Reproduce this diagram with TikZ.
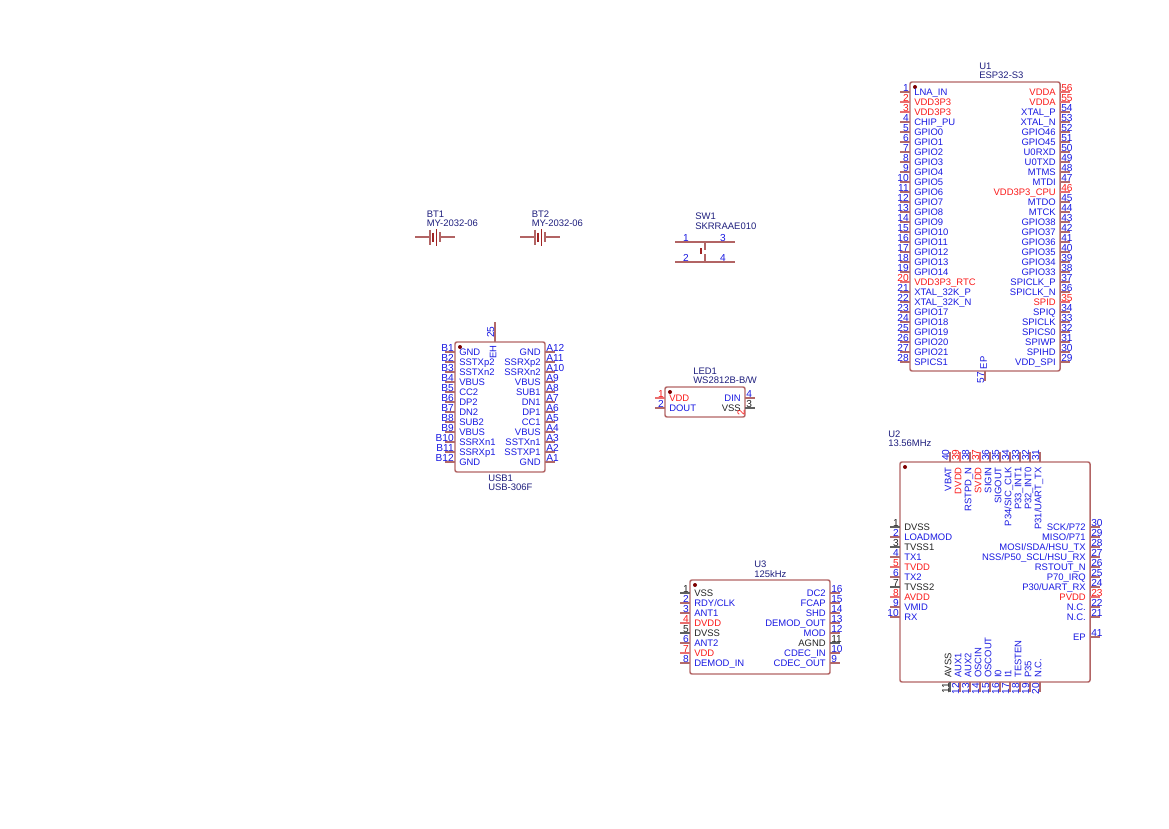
\documentclass[tikz,border=0pt]{standalone}
\usepackage{fontspec}
\setmainfont{Liberation Sans}
\usepackage{tikz}
\usetikzlibrary{calc}

\definecolor{pinb}{RGB}{25,25,225}
\definecolor{pinr}{RGB}{250,25,25}
\definecolor{pink}{RGB}{35,35,35}
\definecolor{stubb}{RGB}{178,105,105}
\definecolor{stubr}{RGB}{232,110,110}
\definecolor{stubk}{RGB}{95,95,95}
\definecolor{bodyc}{RGB}{178,100,100}
\definecolor{darkc}{RGB}{160,35,35}
\definecolor{dotc}{RGB}{125,0,0}
\definecolor{refc}{RGB}{30,30,125}

\tikzset{
	body/.style={draw=bodyc, line width=1.1pt, rounded corners=1.5pt},
	stubline/.style={line width=1.1pt},
	pinname/.style={font=\fontsize{7.1}{8}\selectfont, inner sep=0pt, text height=5pt, text depth=0pt},
	pinnum/.style={font=\fontsize{7.6}{8}\selectfont, inner sep=0pt},
	reftext/.style={font=\fontsize{7.1}{8}\selectfont, text=refc, inner sep=0pt, anchor=west, text height=5pt, text depth=0pt},
	dotmark/.style={circle, fill=dotc, inner sep=0pt, minimum size=3pt},
	wire/.style={draw=bodyc, line width=1.1pt},
	plate/.style={draw=darkc, line width=.9pt},
}

\newcommand{\pinsleft}[4]{%
	\foreach \num/\lab/\col [count=\i from 0] in {#4} {
		\coordinate (#1-\num) at (#2,{#3+10*\i});
		\coordinate (#1-\num-e) at ($(#1-\num)+(-10,0)$);
		\draw[stubline, draw=stub\col] (#1-\num-e) -- (#1-\num);
		\node[pinnum, text=pin\col, anchor=base east] (#1-\num-n) at ($(#1-\num)+(-1,-1)$) {\num};
		\node[pinname, text=pin\col, anchor=west] (#1-\num-l) at ($(#1-\num)+(4,.3)$) {\lab};
	}}
\newcommand{\pinsright}[4]{%
	\foreach \num/\lab/\col [count=\i from 0] in {#4} {
		\coordinate (#1-\num) at (#2,{#3+10*\i});
		\coordinate (#1-\num-e) at ($(#1-\num)+(10,0)$);
		\draw[stubline, draw=stub\col] (#1-\num) -- (#1-\num-e);
		\node[pinnum, text=pin\col, anchor=base west] (#1-\num-n) at ($(#1-\num)+(1,-1)$) {\num};
		\node[pinname, text=pin\col, anchor=east] (#1-\num-l) at ($(#1-\num)+(-4,.3)$) {\lab};
	}}
\newcommand{\pinstop}[4]{%
	\foreach \num/\lab/\col [count=\i from 0] in {#4} {
		\coordinate (#1-\num) at ({#3+10*\i},#2);
		\coordinate (#1-\num-e) at ($(#1-\num)+(0,-10)$);
		\draw[stubline, draw=stub\col] (#1-\num-e) -- (#1-\num);
		\node[pinnum, text=pin\col, rotate=90, anchor=base west] (#1-\num-n) at ($(#1-\num)+(-1,-1)$) {\num};
		\node[pinname, text=pin\col, rotate=90, anchor=east] (#1-\num-l) at ($(#1-\num)+(-2,5)$) {\lab};
	}}
\newcommand{\pinsbottom}[4]{%
	\foreach \num/\lab/\col [count=\i from 0] in {#4} {
		\coordinate (#1-\num) at ({#3+10*\i},#2);
		\coordinate (#1-\num-e) at ($(#1-\num)+(0,10)$);
		\draw[stubline, draw=stub\col] (#1-\num) -- (#1-\num-e);
		\node[pinnum, text=pin\col, rotate=90, anchor=base east] (#1-\num-n) at ($(#1-\num)+(-1,1)$) {\num};
		\node[pinname, text=pin\col, rotate=90, anchor=west] (#1-\num-l) at ($(#1-\num)+(-2,-4)$) {\lab};
	}}

\begin{document}
\begin{tikzpicture}[x=.75pt, y=-.75pt]
	\useasboundingbox (0,0) rectangle (1169,828);

	% U1
	\draw[body] (910,82) rectangle (1060,371);
	\node[dotmark] (U1-dot) at (915,87) {};
	\node[reftext] (U1-ref) at (979,66.5) {U1};
	\node[reftext] (U1-val) at (979,75.5) {ESP32-S3};
	\pinsleft{U1}{910}{92}{1/LNA\_IN/b, 2/VDD3P3/r, 3/VDD3P3/r, 4/CHIP\_PU/b, 5/GPIO0/b, 6/GPIO1/b, 7/GPIO2/b, 8/GPIO3/b, 9/GPIO4/b, 10/GPIO5/b, 11/GPIO6/b, 12/GPIO7/b, 13/GPIO8/b, 14/GPIO9/b, 15/GPIO10/b, 16/GPIO11/b, 17/GPIO12/b, 18/GPIO13/b, 19/GPIO14/b, 20/VDD3P3\_RTC/r, 21/XTAL\_32K\_P/b, 22/XTAL\_32K\_N/b, 23/GPIO17/b, 24/GPIO18/b, 25/GPIO19/b, 26/GPIO20/b, 27/GPIO21/b, 28/SPICS1/b}
	\pinsright{U1}{1060}{92}{56/VDDA/r, 55/VDDA/r, 54/XTAL\_P/b, 53/XTAL\_N/b, 52/GPIO46/b, 51/GPIO45/b, 50/U0RXD/b, 49/U0TXD/b, 48/MTMS/b, 47/MTDI/b, 46/VDD3P3\_CPU/r, 45/MTDO/b, 44/MTCK/b, 43/GPIO38/b, 42/GPIO37/b, 41/GPIO36/b, 40/GPIO35/b, 39/GPIO34/b, 38/GPIO33/b, 37/SPICLK\_P/b, 36/SPICLK\_N/b, 35/SPID/r, 34/SPIQ/b, 33/SPICLK/b, 32/SPICS0/b, 31/SPIWP/b, 30/SPIHD/b, 29/VDD\_SPI/b}
	\coordinate (U1-57) at (985,371);
	\coordinate (U1-57-e) at (985,381);
	\draw[stubline, draw=stubb] (U1-57) -- (U1-57-e);
	\node[pinnum, text=pinb, rotate=90, anchor=base east] (U1-57-n) at (984,372) {57};
	\node[pinname, text=pinb, rotate=90, anchor=west] (U1-57-l) at (983.5,369.5) {EP};

	% U2
	\draw[body] (900,462) rectangle (1090,682);
	\node[dotmark] (U2-dot) at (905,467) {};
	\node[reftext] (U2-ref) at (888,434.5) {U2};
	\node[reftext] (U2-val) at (888,443.5) {13.56MHz};
	\pinstop{U2}{462}{950}{40/VBAT/b, 39/DVDD/r, 38/RSTPD\_N/b, 37/SVDD/r, 36/SIGIN/b, 35/SIGOUT/b, 34/{P34/SIC\_CLK}/b, 33/P33\_INT1/b, 32/P32\_INT0/b, 31/{P31/UART\_TX}/b}
	\pinsleft{U2}{900}{527}{1/DVSS/k, 2/LOADMOD/b, 3/TVSS1/k, 4/TX1/b, 5/TVDD/r, 6/TX2/b, 7/TVSS2/k, 8/AVDD/r, 9/VMID/b, 10/RX/b}
	\pinsright{U2}{1090}{527}{30/{SCK/P72}/b, 29/{MISO/P71}/b, 28/{MOSI/SDA/HSU\_TX}/b, 27/{NSS/P50\_SCL/HSU\_RX}/b, 26/RSTOUT\_N/b, 25/P70\_IRQ/b, 24/{P30/UART\_RX}/b, 23/PVDD/r, 22/N.C./b, 21/N.C./b}
	\pinsright{U2}{1090}{637}{41/EP/b}
	\pinsbottom{U2}{682}{950}{11/AVSS/k, 12/AUX1/b, 13/AUX2/b, 14/OSCIN/b, 15/OSCOUT/b, 16/I0/b, 17/I1/b, 18/TESTEN/b, 19/P35/b, 20/N.C./b}

	% U3
	\draw[body] (690,580) rectangle (830,674);
	\node[dotmark] (U3-dot) at (695,585) {};
	\node[reftext] (U3-ref) at (754,564.5) {U3};
	\node[reftext] (U3-val) at (754,574.5) {125kHz};
	\pinsleft{U3}{690}{593}{1/VSS/k, 2/{RDY/CLK}/b, 3/ANT1/b, 4/DVDD/r, 5/DVSS/k, 6/ANT2/b, 7/VDD/r, 8/DEMOD\_IN/b}
	\pinsright{U3}{830}{593}{16/DC2/b, 15/FCAP/b, 14/SHD/b, 13/DEMOD\_OUT/b, 12/MOD/b, 11/AGND/k, 10/CDEC\_IN/b, 9/CDEC\_OUT/b}

	% USB1
	\draw[body] (455,342) rectangle (545,472);
	\node[dotmark] (USB1-dot) at (460,347) {};
	\node[reftext] (USB1-ref) at (488,478.5) {USB1};
	\node[reftext] (USB1-val) at (488,487.5) {USB-306F};
	\pinsleft{USB1}{455}{352}{B1/GND/b, B2/SSTXp2/b, B3/SSTXn2/b, B4/VBUS/b, B5/CC2/b, B6/DP2/b, B7/DN2/b, B8/SUB2/b, B9/VBUS/b, B10/SSRXn1/b, B11/SSRXp1/b, B12/GND/b}
	\pinsright{USB1}{545}{352}{A12/GND/b, A11/SSRXp2/b, A10/SSRXn2/b, A9/VBUS/b, A8/SUB1/b, A7/DN1/b, A6/DP1/b, A5/CC1/b, A4/VBUS/b, A3/SSTXn1/b, A2/SSTXP1/b, A1/GND/b}
	\coordinate (USB1-25) at (495,342);
	\coordinate (USB1-25-e) at (495,322);
	\draw[stubline, draw=stubb] (USB1-25-e) -- (USB1-25);
	\node[pinnum, text=pinb, rotate=90, anchor=base west] (USB1-25-n) at (494,338) {25};
	\node[pinname, text=pinb, rotate=90, anchor=east] (USB1-25-l) at (493,345) {EH};

	% LED1
	\draw[body] (665,387) rectangle (745,417);
	\node[dotmark] (LED1-dot) at (670,392) {};
	\node[reftext] (LED1-ref) at (693,371.5) {LED1};
	\node[reftext] (LED1-val) at (693,380.5) {WS2812B-B/W};
	\pinsleft{LED1}{665}{398}{1/VDD/r, 2/DOUT/b}
	\pinsright{LED1}{745}{398}{4/DIN/b, 3/VSS/k}
	\node[pinnum, text=pinr, rotate=90] (LED1-2b) at (741,412.5) {2};

	% SW1
	\node[reftext] (SW1-ref) at (695,216.5) {SW1};
	\node[reftext] (SW1-val) at (695,226) {SKRRAAE010};
	\coordinate (SW1-1) at (675,242);
	\coordinate (SW1-3) at (735,242);
	\coordinate (SW1-2) at (675,262);
	\coordinate (SW1-4) at (735,262);
	\coordinate (SW1-ta) at (705,242);
	\coordinate (SW1-tb) at (705,250);
	\coordinate (SW1-ba) at (705,262);
	\coordinate (SW1-bb) at (705,254);
	\coordinate (SW1-ca) at (701,248);
	\coordinate (SW1-cb) at (701,253.5);
	\draw[wire] (SW1-1) -- (SW1-3);
	\draw[wire] (SW1-2) -- (SW1-4);
	\draw[wire] (SW1-ta) -- (SW1-tb);
	\draw[wire] (SW1-ba) -- (SW1-bb);
	\draw[plate] (SW1-ca) -- (SW1-cb);
	\node[pinnum, text=pinb, anchor=base] (SW1-n1) at (686,241) {1};
	\node[pinnum, text=pinb, anchor=base] (SW1-n3) at (723,241) {3};
	\node[pinnum, text=pinb, anchor=base] (SW1-n2) at (686,261) {2};
	\node[pinnum, text=pinb, anchor=base] (SW1-n4) at (723,261) {4};

	% BT1, BT2
	\foreach \bat/\xo in {BT1/0, BT2/105} {
		\node[reftext] (\bat-ref) at ({426.5+\xo},214.5) {\bat};
		\node[reftext] (\bat-val) at ({426.5+\xo},223.5) {MY-2032-06};
		\coordinate (\bat-a) at ({415+\xo},237);
		\coordinate (\bat-b) at ({430+\xo},237);
		\coordinate (\bat-c) at ({440+\xo},237);
		\coordinate (\bat-d) at ({455+\xo},237);
		\draw[wire] (\bat-a) -- (\bat-b);
		\draw[wire] (\bat-c) -- (\bat-d);
		\draw[wire] ($(\bat-b)+(0,-7.5)$) -- ($(\bat-b)+(0,7.5)$);
		\draw[wire] ($(\bat-c)+(0,-5)$) -- ($(\bat-c)+(0,5)$);
		\draw[plate] ($(\bat-b)+(3,-4.5)$) -- ($(\bat-b)+(3,4.5)$);
		\draw[plate] ($(\bat-b)+(6.5,-8)$) -- ($(\bat-b)+(6.5,9)$);
	}
\end{tikzpicture}
\end{document}
